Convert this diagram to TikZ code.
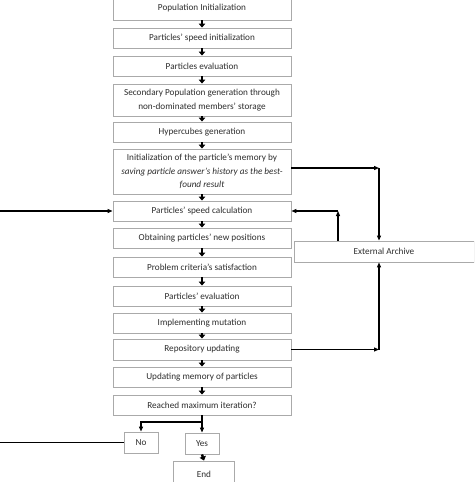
\documentclass[tikz,border=0pt]{standalone}
\usepackage{fontspec}
\setmainfont{Carlito}
\usetikzlibrary{arrows.meta}
\definecolor{boxgrey}{RGB}{170,170,170}
\definecolor{inkgrey}{RGB}{45,45,45}

\begin{document}
\begin{tikzpicture}[x=1pt,y=-1pt]
				\tikzset{stepbox/.style={draw=boxgrey,line width=0.9pt,minimum width=178pt,minimum height=20pt,inner sep=1pt,align=center,text=inkgrey,font=\fontsize{9.2}{13.5}\selectfont}}
				\tikzset{smallbox/.style={stepbox,minimum width=34pt,minimum height=21pt}}
				\tikzset{blockarrow/.style={line width=2.4pt,-{Triangle[width=6.5pt,length=4pt]}}}
				\tikzset{thinarrow/.style={line width=1.1pt,-{Triangle[width=4pt,length=5pt]}}}
				\path[use as bounding box] (0,0) rectangle (474,482);
				\clip (0,0) rectangle (474,482);
				\node[stepbox,minimum height=24pt] (popinit) at (202,8) {Population Initialization};
				\node[stepbox] (speedinit) at (202,38) {Particles' speed initialization};
				\node[stepbox] (evalinit) at (202,66) {Particles evaluation};
				\node[stepbox,minimum height=32pt] (secpop) at (202,100) {Secondary Population generation through\\non-dominated members' storage};
				\node[stepbox] (hypercube) at (202,132) {Hypercubes generation};
				\node[stepbox,minimum height=45pt] (meminit) at (202,171.5) {Initialization of the particle's memory by\\\textit{saving particle answer's history as the best-}\\\textit{found result}};
				\node[stepbox] (speedcalc) at (202,211) {Particles' speed calculation};
				\node[stepbox] (newpos) at (202,238) {Obtaining particles' new positions};
				\node[stepbox] (criteria) at (202,267) {Problem criteria's satisfaction};
				\node[stepbox] (evalloop) at (202,296) {Particles' evaluation};
				\node[stepbox] (mutation) at (202,323) {Implementing mutation};
				\node[stepbox,minimum height=21pt] (repo) at (202,349.5) {Repository updating};
				\node[stepbox] (memupd) at (202,377) {Updating memory of particles};
				\node[stepbox] (maxiter) at (202,405) {Reached maximum iteration?};
				\node[smallbox] (no) at (141,442.5) {No};
				\node[smallbox] (yes) at (202,443.5) {Yes};
				\node[stepbox,minimum width=61pt,minimum height=26pt] (theend) at (204,474) {End};
				\node[stepbox,minimum width=180pt,minimum height=21pt] (archive) at (384,251.5) {External Archive};
				\coordinate (archtop) at (379,168);
				\coordinate (feedback) at (338,211);
				\coordinate (split) at (202,422);
				\coordinate (loopleft) at (-10,211);
				\foreach \a/\b in {popinit/speedinit,speedinit/evalinit,evalinit/secpop,secpop/hypercube,hypercube/meminit,meminit/speedcalc,speedcalc/newpos,newpos/criteria,criteria/evalloop,evalloop/mutation,mutation/repo,repo/memupd,memupd/maxiter,yes/theend}
					\draw[blockarrow] (\a.south) -- (\b.north);
				\draw[thinarrow] (meminit.east |- archtop) -- (archtop);
				\draw[thinarrow] (archtop) -- (archtop |- archive.north);
				\draw[thinarrow] (repo.east) -- (repo.east -| archtop);
				\draw[thinarrow] (repo.east -| archtop) -- (archtop |- archive.south);
				\draw[thinarrow] (feedback |- archive.north) -- (feedback);
				\draw[thinarrow] (feedback) -- (speedcalc.east);
				\draw[thinarrow] (maxiter.south) -- (yes.north);
				\draw[thinarrow] (split) -| (no.north);
				\draw[thinarrow] (no.west) -| (loopleft) -- (speedcalc.west);
			\end{tikzpicture}
\end{document}
